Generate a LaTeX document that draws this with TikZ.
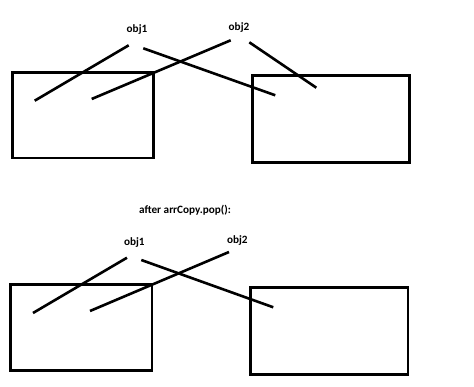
\documentclass[tikz,border=0pt]{standalone}
\usepackage{fontspec}
\setmainfont{Carlito}
\begin{document}
\begin{tikzpicture}[x=1pt,y=-1pt,
  box/.style={draw=black,line width=2.6pt,fill=none},
  ref/.style={draw=black,line width=2.6pt},
  lbl/.style={font=\bfseries\fontsize{11.2}{13}\selectfont,inner sep=0pt}]
\useasboundingbox (0,0) rectangle (474,387);
% top
\draw[box] (12.3,72.3) rectangle (153.7,158);
\draw[box] (252.7,75.3) rectangle (409.7,162.7);
\node[lbl] (o1) at (137,30) {obj1};
\node[lbl] (o2) at (239,28) {obj2};
\coordinate (a1) at (128.7,45.3); \coordinate (a1e) at (34.7,100.7);
\coordinate (a2) at (143.3,48.3); \coordinate (a2e) at (275.3,95.3);
\coordinate (b1) at (230.7,40.3); \coordinate (b1e) at (91.7,99);
\coordinate (b2) at (249.3,42.3); \coordinate (b2e) at (316.3,87.7);
\draw[ref] (a1) -- (a1e);
\draw[ref] (a2) -- (a2e);
\draw[ref] (b1) -- (b1e);
\draw[ref] (b2) -- (b2e);
% bottom
\node[lbl] (t) at (185,210.7) {after arrCopy.pop():};
\draw[box] (10.7,284.7) rectangle (152,370.3);
\draw[box] (250.7,287.3) rectangle (408,374.7);
\node[lbl] (p1) at (134.3,242.7) {obj1};
\node[lbl] (p2) at (237.3,241) {obj2};
\coordinate (c1) at (127,257.7); \coordinate (c1e) at (33,313);
\coordinate (c2) at (141.3,260); \coordinate (c2e) at (273.3,307.3);
\coordinate (d1) at (229,252); \coordinate (d1e) at (90,311);
\draw[ref] (c1) -- (c1e);
\draw[ref] (c2) -- (c2e);
\draw[ref] (d1) -- (d1e);
\end{tikzpicture}
\end{document}
